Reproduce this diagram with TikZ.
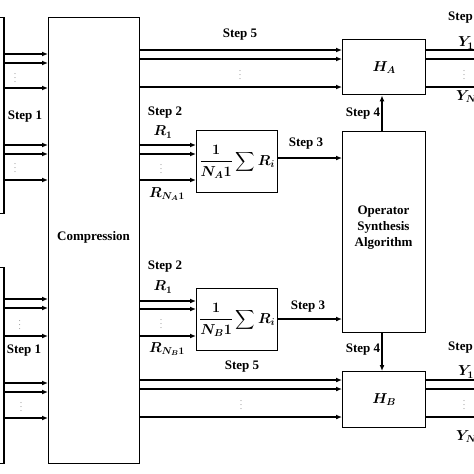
\documentclass[tikz,border=0pt]{standalone}
\usepackage{graphicx}
\usepackage{fontspec}
\setmainfont{Liberation Serif}
\usetikzlibrary{arrows.meta}
\newcommand{\bigsumop}{\mathop{\vcenter{\hbox{\scalebox{1.35}{$\displaystyle\sum$}}}}}
\begin{document}
\begin{tikzpicture}[x=1pt,y=-1pt,
  box/.style={draw, line width=1.4pt, inner sep=0pt, anchor=north west},
  lbl/.style={font=\fontsize{13}{15}\selectfont\bfseries, inner sep=0pt},
  mlbl/.style={font=\fontsize{14}{16}\selectfont\boldmath, inner sep=0pt},
  arr/.style={line width=1.3pt, -{Latex[length=6pt,width=5pt]}},
  ln/.style={line width=1.3pt},
  vd/.style={font=\fontsize{6}{7}\selectfont, inner sep=0pt}]
\useasboundingbox (0,0) rectangle (474,474);
\fill[white] (0,0) rectangle (474,474);
% boxes
\node[box, minimum width=40pt, minimum height=196pt, anchor=north east] (la) at (4.5,17) {};
\node[box, minimum width=40pt, minimum height=196pt, anchor=north east] (lb) at (4.5,267) {};
\node[box, minimum width=91pt, minimum height=446pt] (comp) at (48,17) {};
\node[lbl] at (93.5,237) {Compression};
\node[box, minimum width=81pt, minimum height=62pt] (sumA) at (196,130) {};
\node[mlbl] at (sumA.center) {$\displaystyle\frac{1}{N_A1}\bigsumop R_i$};
\node[box, minimum width=81pt, minimum height=62pt] (sumB) at (196,288) {};
\node[mlbl] at (sumB.center) {$\displaystyle\frac{1}{N_B1}\bigsumop R_i$};
\node[box, minimum width=83pt, minimum height=55pt] (HA) at (342,39) {};
\node[mlbl] at (HA.center) {$H_A$};
\node[box, minimum width=83pt, minimum height=56pt] (HB) at (342,371) {};
\node[mlbl] at (HB.center) {$H_B$};
\node[box, minimum width=83pt, minimum height=201pt] (op) at (342,131) {};
\node[lbl, align=center, font=\fontsize{13}{16}\selectfont\bfseries] at (383.5,228) {Operator\\Synthesis\\Algorithm};
% left arrows (step 1)
\foreach \y in {54,63,88,145,154,180} \draw[arr] (la.east |- 0,\y) -- (comp.west |- 0,\y);
\foreach \y in {299,308,336,383,392,418} \draw[arr] (lb.east |- 0,\y) -- (comp.west |- 0,\y);
\node[vd] at (15,75) {$\vdots$};
\node[vd] at (15,165) {$\vdots$};
\node[vd] at (20,322) {$\vdots$};
\node[vd] at (21,404) {$\vdots$};
\node[lbl] at (25,117) {Step 1};
\node[lbl] at (24,351) {Step 1};
% step 5 top
\foreach \y in {50,59,87} \draw[arr] (comp.east |- 0,\y) -- (HA.west |- 0,\y);
\node[vd] at (240,72) {$\vdots$};
\node[lbl] at (240,35) {Step 5};
% step 2 top
\foreach \y in {145,154,180} \draw[arr] (comp.east |- 0,\y) -- (sumA.west |- 0,\y);
\node[vd] at (161,166) {$\vdots$};
\node[lbl] at (165,113) {Step 2};
\node[mlbl] at (163,132) {$R_1$};
\node[mlbl] at (167,194) {$R_{N_A1}$};
% step 3 top
\draw[arr] (sumA.east |- 0,158) -- (op.west |- 0,158);
\node[lbl] at (306,144) {Step 3};
% step 4 top
\draw[arr] (op.north -| 382,0) -- (HA.south -| 382,0);
\node[lbl] at (363,114) {Step 4};
% outputs top
\foreach \y/\n in {50/a,59/b,87/c} {\coordinate (oA\n) at (480,\y); \draw[ln] (HA.east |- 0,\y) -- (oA\n);}
\node[vd] at (464,72) {$\vdots$};
\node[mlbl] at (466,43) {$Y_1$};
\node[mlbl, anchor=west] at (456,97) {$Y_{N_A}$};
\node[lbl, anchor=west] at (448,18) {Step};
% step 2 bottom
\foreach \y in {301,309,336} \draw[arr] (comp.east |- 0,\y) -- (sumB.west |- 0,\y);
\node[vd] at (161,321) {$\vdots$};
\node[lbl] at (165,267) {Step 2};
\node[mlbl] at (163,287) {$R_1$};
\node[mlbl] at (167,349) {$R_{N_B1}$};
% step 3 bottom
\draw[arr] (sumB.east |- 0,319) -- (op.west |- 0,319);
\node[lbl] at (308,307) {Step 3};
% step 5 bottom
\foreach \y in {380,389,417} \draw[arr] (comp.east |- 0,\y) -- (HB.west |- 0,\y);
\node[vd] at (241,402) {$\vdots$};
\node[lbl] at (242,367) {Step 5};
% step 4 bottom
\draw[arr] (op.south -| 382,0) -- (HB.north -| 382,0);
\node[lbl] at (363,350) {Step 4};
% outputs bottom
\foreach \y/\n in {380/a,389/b,417/c} {\coordinate (oB\n) at (480,\y); \draw[ln] (HB.east |- 0,\y) -- (oB\n);}
\node[vd] at (464,402) {$\vdots$};
\node[mlbl] at (466,372) {$Y_1$};
\node[mlbl, anchor=west] at (456,437) {$Y_{N_B}$};
\node[lbl, anchor=west] at (448,348) {Step};
\end{tikzpicture}
\end{document}
